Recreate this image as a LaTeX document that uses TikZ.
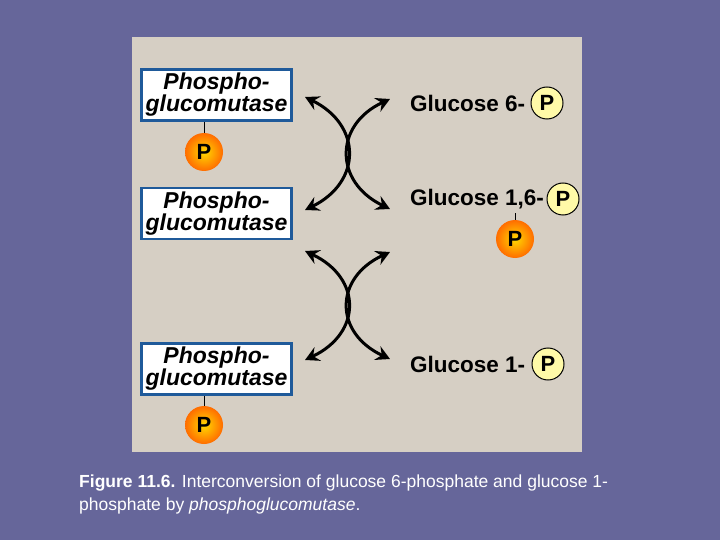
\documentclass[tikz,border=0pt]{standalone}
\usepackage{fontspec}
\setmainfont{Liberation Sans}
\usetikzlibrary{arrows.meta,shadings}
\definecolor{bgout}{HTML}{66669A}
\definecolor{panel}{HTML}{D6CFC4}
\definecolor{boxb}{HTML}{1F5A9A}
\definecolor{pyel}{HTML}{FFFAA8}
\begin{document}
\begin{tikzpicture}[x=1pt,y=-1pt,
  enz/.style={draw=boxb,line width=2.5pt,fill=white,minimum width=150pt,minimum height=51pt,align=center,font=\fontsize{23}{22}\selectfont\bfseries\itshape,inner sep=0pt},
  pball/.style={circle,minimum size=38pt,inner sep=0pt,inner color=yellow!70!orange,outer color=orange!85!red,font=\fontsize{22}{22}\selectfont\bfseries},
  ysmall/.style={circle,draw=black,line width=1pt,fill=pyel,minimum size=32pt,inner sep=0pt,font=\fontsize{22}{22}\selectfont\bfseries},
  glu/.style={anchor=west,font=\fontsize{22.5}{22}\selectfont\bfseries,inner sep=0pt},
  arr/.style={line width=3pt,{Stealth[length=14pt,width=15pt,inset=5pt]}-{Stealth[length=14pt,width=15pt,inset=5pt]}},
  captxt/.style={anchor=west,text=white,font=\fontsize{17.5}{18}\selectfont,inner sep=0pt}]
\fill[bgout] (0,0) rectangle (720,540);
\fill[panel] (132,37) rectangle (582,452);
% enzymes
\node[enz] (e1) at (216.5,95) {Phospho-\\glucomutase};
\node[enz] (e2) at (216.5,213.5) {Phospho-\\glucomutase};
\node[enz] (e3) at (216.5,369) {Phospho-\\glucomutase};
\node[pball] (p1) at (204,152) {P};
\node[pball] (p3) at (204,425) {P};
\draw[line width=1pt] (p1.north) -- (p1.north |- e1.south);
\draw[line width=1pt] (p3.north) -- (p3.north |- e3.south);
% glucoses
\node[glu] (g6) at (410,103) {Glucose 6-};
\node[ysmall] (y6) at (547,103) {P};
\node[glu] (g16) at (410,199) {Glucose 1,6-};
\node[ysmall] (y16) at (563,199) {P};
\node[pball] (p16) at (515,239) {P};
\draw[line width=1pt] (p16.north) -- (515,213);
\node[glu] (g1) at (410,364) {Glucose 1-};
\node[ysmall] (y1) at (548,364) {P};
% arrows
\coordinate (a1) at (305,97); \coordinate (a2) at (305,210);
\coordinate (b1) at (390,99); \coordinate (b2) at (390,209);
\draw[arr] (a1) .. controls (362,125) and (362,182) .. (a2);
\draw[arr] (b1) .. controls (334,125) and (334,182) .. (b2);
\coordinate (c1) at (305,251); \coordinate (c2) at (305,360);
\coordinate (d1) at (390,252); \coordinate (d2) at (390,359);
\draw[arr] (c1) .. controls (362,278) and (362,333) .. (c2);
\draw[arr] (d1) .. controls (334,278) and (334,333) .. (d2);
% caption
\node[captxt] (cap1) at (79,483) {\textbf{Figure 11.6.} Interconversion of glucose 6-phosphate and glucose 1-};
\node[captxt] (cap2) at (79,506) {phosphate by \textit{phosphoglucomutase}.};
\end{tikzpicture}
\end{document}
